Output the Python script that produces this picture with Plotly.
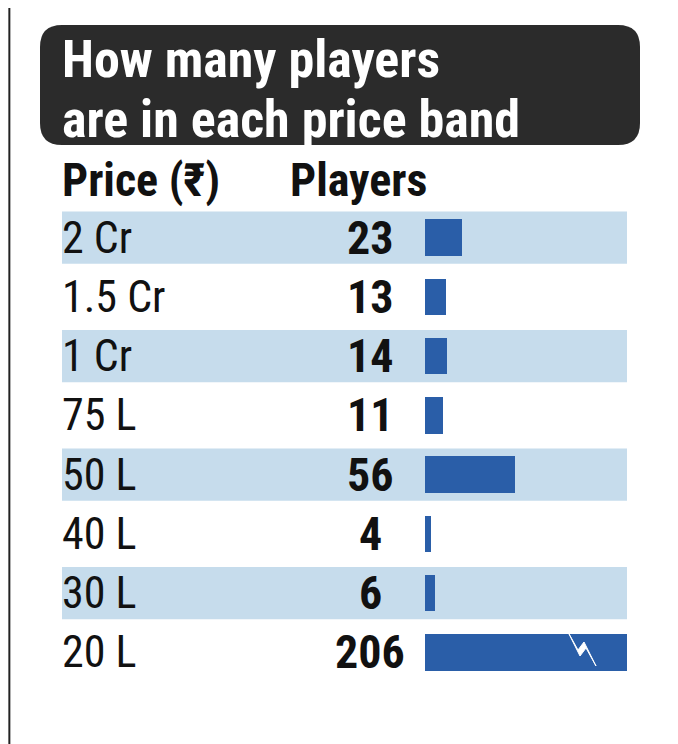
import plotly.graph_objects as go

W, H = 678, 744

prices = ["2 Cr", "1.5 Cr", "1 Cr", "75 L", "50 L", "40 L", "30 L", "20 L"]
players = [23, 13, 14, 11, 56, 4, 6, 206]

title_lines = ["How many players", "are in each price band"]
col_headers = ["Price (₹)", "Players"]

BAR = "#2a5ea8"
BAND = "#c6dcec"
FONT = "Liberation Sans Narrow, Roboto Condensed, Roboto"
OFF = 8  # page margin of the html body


def px(x):
    return (x - OFF) / W


def py(y):
    return 1 - (y - OFF) / H


row_top, row_bot = 208, 682
n = len(prices)

fig = go.Figure()
fig.add_trace(go.Bar(
    y=list(range(n)), x=players, orientation="h",
    marker=dict(color=BAR, line=dict(width=0)),
    width=0.62, xaxis="x", yaxis="y", hoverinfo="skip",
))

shapes = []
# alternate light blue bands
for i in range(0, n, 2):
    shapes.append(dict(type="rect", xref="paper", yref="y",
                       x0=px(62), x1=px(627), y0=i - 0.44, y1=i + 0.44,
                       fillcolor=BAND, line=dict(width=0), layer="below"))
# title box
shapes.append(dict(type="path", xref="paper", yref="paper",
                   path=("M {a},{t} L {b},{t} Q {c},{t} {c},{t2} L {c},{bb2} Q {c},{bb} {b},{bb} "
                         "L {a},{bb} Q {d},{bb} {d},{bb2} L {d},{t2} Q {d},{t} {a},{t} Z").format(
                       a=px(62), b=px(618), c=px(640), d=px(40),
                       t=py(25), t2=py(47), bb=py(145), bb2=py(123)),
                   fillcolor="#2b2b2b", line=dict(width=0)))
# break mark on the clipped bar
shapes.append(dict(type="path", xref="paper", yref="paper",
                   path="M {} {} L {} {} L {} {} L {} {} L {} {} L {} {} Z".format(
                       px(568), py(632), px(578), py(650), px(584), py(642),
                       px(596), py(666), px(586), py(648), px(580), py(656)),
                   fillcolor="white", line=dict(color="white", width=1)))
# left frame line
shapes.append(dict(type="line", xref="paper", yref="paper",
                   x0=0.002, x1=0.002, y0=0, y1=1, line=dict(color="#222", width=2)))

ann = []
for k, line in enumerate(title_lines):
    ann.append(dict(text="<b>" + line + "</b>", xref="paper", yref="paper",
                    x=px(60), y=py(60 + k * 60), xanchor="left", yanchor="middle",
                    showarrow=False, font=dict(family=FONT, size=52, color="white")))
ann.append(dict(text="<b>" + col_headers[0] + "</b>", xref="paper", yref="paper",
                x=px(60), y=py(180), xanchor="left", yanchor="middle", showarrow=False,
                font=dict(family=FONT, size=46, color="#111")))
ann.append(dict(text="<b>" + col_headers[1] + "</b>", xref="paper", yref="paper",
                x=px(288), y=py(180), xanchor="left", yanchor="middle", showarrow=False,
                font=dict(family=FONT, size=46, color="#111")))
for i, (p, v) in enumerate(zip(prices, players)):
    ann.append(dict(text=p, xref="paper", yref="y", x=px(60), y=i,
                    xanchor="left", yanchor="middle", showarrow=False,
                    font=dict(family=FONT, size=44, color="#111")))
    ann.append(dict(text="<b>" + str(v) + "</b>", xref="paper", yref="y", x=px(370), y=i,
                    xanchor="center", yanchor="middle", showarrow=False,
                    font=dict(family=FONT, size=46, color="#111")))

fig.update_layout(
    width=W, height=H, margin=dict(l=0, r=0, t=0, b=0),
    paper_bgcolor="white", plot_bgcolor="rgba(0,0,0,0)",
    showlegend=False, shapes=shapes, annotations=ann,
    xaxis=dict(domain=[px(425), px(627)], range=[0, 202 / 1.6], visible=False, fixedrange=True),
    yaxis=dict(domain=[py(row_bot), py(row_top)], range=[n - 0.5, -0.5], visible=False),
    bargap=0,
)

fig.write_html("out.html")
